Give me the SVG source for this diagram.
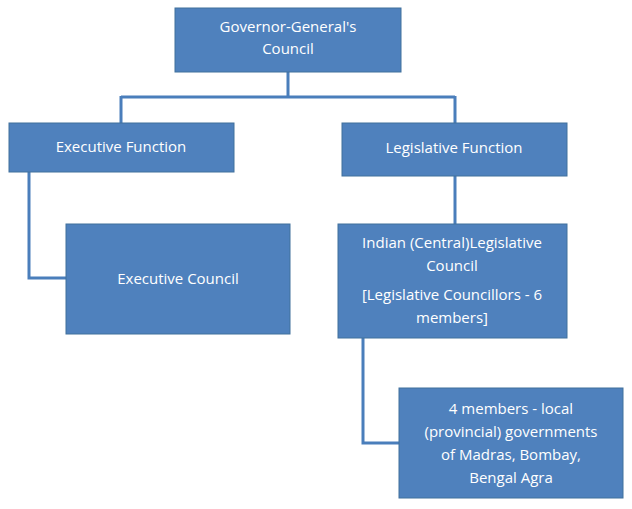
<svg xmlns="http://www.w3.org/2000/svg" width="632" height="509" viewBox="0 0 632 509">
<style>
.b{fill:#4F81BD;stroke:#41719C;stroke-width:1}
.t{font-family:"Open Sans","Liberation Sans",sans-serif;font-size:15px;fill:#fff;text-anchor:middle}
.c{fill:none;stroke:#4A7EBB;stroke-width:3}
</style>
<rect width="632" height="509" fill="#fff"/>
<g id="connectors">
<path class="c" d="M288 72V97M121 97H455M121 96V123M455 96V123"/>
<path class="c" d="M29 172V278H66"/>
<path class="c" d="M455 176V224"/>
<path class="c" d="M363 338V443H399"/>
</g>
<g id="gg"><rect class="b" x="175" y="8" width="226" height="64"/>
<text class="t" x="288" y="32">Governor-General's</text><text class="t" x="288" y="54">Council</text></g>
<g id="ef"><rect class="b" x="9" y="123" width="225" height="49"/>
<text class="t" x="121" y="152">Executive Function</text></g>
<g id="lf"><rect class="b" x="342" y="123" width="225" height="53"/>
<text class="t" x="454" y="153">Legislative Function</text></g>
<g id="ec"><rect class="b" x="66" y="224" width="224" height="110"/>
<text class="t" x="178" y="284">Executive Council</text></g>
<g id="ilc"><rect class="b" x="338" y="224" width="229" height="114"/>
<text class="t" x="452" y="248">Indian (Central)Legislative</text>
<text class="t" x="452" y="271">Council</text>
<text class="t" x="452" y="300">[Legislative Councillors - 6</text>
<text class="t" x="452" y="323">members]</text></g>
<g id="fm"><rect class="b" x="399" y="388" width="224" height="110"/>
<text class="t" x="511" y="414">4 members - local</text>
<text class="t" x="511" y="437">(provincial) governments</text>
<text class="t" x="511" y="460">of Madras, Bombay,</text>
<text class="t" x="511" y="483">Bengal Agra</text></g>
</svg>
